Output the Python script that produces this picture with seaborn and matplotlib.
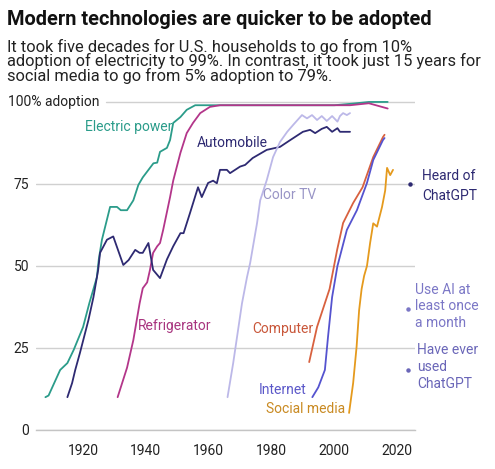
import pandas as pd
import numpy as np
import matplotlib.pyplot as plt
import seaborn as sns


## Data
electric_years = [1908, 1909, 1912.7, 1915, 1917, 1920, 1922, 1924.4, 1925, 1926, 1928.6, 1930.8, 1932, 1934,
                  1936, 1937.6, 1939, 1942.4, 1943.6, 1944.5, 1946.7, 1947.7, 1948.7, 1951, 1953, 1955.7,
                  2000, 2006, 2011, 2017]
electric_vals = [10, 10.5, 18.3, 20.4, 24.4, 31.4, 38.7, 46.6, 52, 58, 68, 68, 67, 67,
                 70, 74.7, 77, 81.3, 81.5, 84.8, 86, 88.4, 93.6, 95.4, 97.6, 99,
                 99, 99.5, 100, 100]

fridge_years = [1931, 1934, 1936, 1938, 1939, 1940.4, 1941.3, 1942.3, 1943.6, 1944.5, 1945.5, 1947.7, 1948.7,
                1951, 1953, 1955, 1957.3, 1960.4, 1963.6, 2005, 2011, 2017]
fridge_vals = [10, 19, 27.4, 38.6, 43.2, 45, 48.8, 54, 56, 57, 61, 71, 76,
               84.5, 90.5, 93.6, 96.6, 98.5, 99, 99, 99.6, 98]

auto_years = [1915, 1916.5, 1917.5, 1919, 1921.7, 1923.3, 1924.8, 1925.4, 1927.6, 1929.6, 1932.8, 1934.5,
              1936.6, 1938, 1939, 1940.8, 1942.3, 1944.5, 1946.7, 1948.7, 1951, 1952, 1954, 1956.6, 1957.8,
              1959.8, 1961.4, 1962.6, 1963.6, 1965.8, 1966.8, 1970, 1971.6, 1974, 1978.5, 1982.7, 1986, 1990,
              1992.3, 1993.9, 1996, 1997.6, 1999.3, 2001, 2001.8, 2005]
auto_vals = [10, 14.3, 18.3, 23.5, 33.5, 40.5, 48.8, 54, 58, 59, 50.3, 51.8,
             54.9, 54, 54, 57, 48.8, 46.3, 52, 56, 60, 60, 66, 74, 71,
             75.3, 76, 75.2, 79.3, 79.3, 78.3, 80.3, 80.8, 82.9, 85.4, 86.3, 88.4, 90.9,
             91.5, 90.5, 91.8, 92.4, 90.9, 92, 90.9, 90.9]

tv_years = [1966, 1967.8, 1970.6, 1972.2, 1973.2, 1975.4, 1976.4, 1978.5, 1980.5, 1982.7, 1985, 1986.9,
            1989.7, 1991.3, 1992.9, 1994.5, 1996, 1997.6, 1999.3, 2001, 2001.8, 2002.8, 2004, 2005]
tv_vals = [10, 20.4, 38.6, 46.6, 50.9, 63.1, 70, 76.2, 83.2, 87.8, 90.9, 93,
           96, 95, 96, 94.5, 95.7, 94.2, 95.7, 94, 95.7, 96.6, 96, 96.6]

computer_years = [1992, 1994.5, 1998.5, 2000.9, 2002.8, 2006, 2009, 2012.4, 2015.5, 2016]
computer_vals = [20.7, 31.4, 43, 54.9, 63.1, 69.2, 74, 83.2, 89.3, 90]

internet_years = [1993, 1994.9, 1997, 1998, 1999.3, 2001, 2004, 2007.2, 2010.4, 2012.4, 2015.5, 2016]
internet_vals = [10, 13, 18.3, 28.4, 40.5, 50, 61, 67, 75.3, 82.3, 88.4, 89]

social_years = [2004.7, 2006, 2007.1, 2007.9, 2008.7, 2009.5, 2010.4, 2011.4, 2012.4, 2013.6, 2015.2,
                2016.2, 2016.8, 2017.8, 2018.7]
social_vals = [5.2, 14.3, 25.4, 36.5, 43, 47, 50, 57, 63, 62, 68, 73, 79.9, 77.7, 79.3]

series = {
    "Electric power": (electric_years, electric_vals),
    "Refrigerator": (fridge_years, fridge_vals),
    "Automobile": (auto_years, auto_vals),
    "Color TV": (tv_years, tv_vals),
    "Computer": (computer_years, computer_vals),
    "Internet": (internet_years, internet_vals),
    "Social media": (social_years, social_vals),
}

line_colors = {
    "Electric power": "#2b9c8a",
    "Refrigerator": "#b3368a",
    "Automobile": "#2e2a72",
    "Color TV": "#bcb8e8",
    "Computer": "#d8613f",
    "Internet": "#5553cf",
    "Social media": "#e59a1d",
}

# label: (x, y, ha, text colour)
labels = {
    "Electric power": (1948.3, 92.5, "right", "#2b9c8a"),
    "Automobile": (1956.3, 87.5, "left", "#2e2a72"),
    "Color TV": (1977.3, 71.6, "left", "#9995c6"),
    "Refrigerator": (1937.4, 31.7, "left", "#a8357f"),
    "Computer": (1993.2, 30.8, "right", "#c9573a"),
    "Internet": (1991.0, 12.2, "right", "#5b58c9"),
    "Social media": (2003.4, 6.4, "right", "#c98a22"),
}

# ChatGPT survey points on the right
survey_labels = ["Heard of\nChatGPT", "Use AI at\nleast once\na month", "Have ever\nused\nChatGPT"]
survey_vals = [75, 37, 18.3]
survey_colors = ["#2e2a72", "#7b77c6", "#6a66b8"]
survey_dot_x = [2024.1, 2023.5, 2023.5]
survey_text_x = [2027.9, 2025.7, 2026.3]
survey_text_dy = [-0.6, 0.7, 0.9]
survey_spacing = [1.5, 1.25, 1.25]

rows = []
for name, (xs, ys) in series.items():
    for x, y in zip(xs, ys):
        rows.append({"tech": name, "year": x, "share": y})
df = pd.DataFrame(rows)


## Plot
sns.set_theme(style="white")
plt.rcParams["font.family"] = ["Roboto", "DejaVu Sans"]

fig = plt.figure(figsize=(4.95, 4.69), dpi=100)
ax = fig.add_axes([0.0727, 0.0832, 0.7657, 0.7134])

sns.lineplot(data=df, x="year", y="share", hue="tech", palette=line_colors,
             estimator=None, sort=False, legend=False, linewidth=1.3, ax=ax)
for ln in ax.lines:
    ln.set_clip_on(False)

ax.set_xlim(1905, 2025.7)
ax.set_ylim(0, 102)

# grid + axes
ax.set_yticks([0, 25, 50, 75])
ax.set_yticklabels(["0", "25", "50", "75"])
ax.yaxis.grid(True, color="#d0d0d0", linewidth=1)
ax.axhline(100, xmin=0.185, xmax=1, color="#d0d0d0", linewidth=1, zorder=0)
ax.text(-0.074, 100, "100% adoption", transform=ax.get_yaxis_transform(),
        ha="left", va="center", fontsize=10, color="#222222")
ax.set_xticks([1920, 1940, 1960, 1980, 2000, 2020])
ax.tick_params(axis="y", length=0, pad=5, labelsize=10, labelcolor="#222222")
ax.tick_params(axis="x", length=4, width=1, color="#999999", pad=6, labelsize=10, labelcolor="#222222")
for side in ["top", "right", "left"]:
    ax.spines[side].set_visible(False)
ax.spines["bottom"].set_color("#c4c4c4")
ax.spines["bottom"].set_linewidth(1)
ax.set_xlabel("")
ax.set_ylabel("")

# direct labels
for name, (x, y, ha, col) in labels.items():
    ax.text(x, y, name, ha=ha, va="center", fontsize=10, color=col)

# survey dots + labels
for lab, v, col, dx, tx, dy, ls in zip(survey_labels, survey_vals, survey_colors,
                                       survey_dot_x, survey_text_x, survey_text_dy, survey_spacing):
    ax.plot([dx], [v], marker="o", markersize=2.2, color=col, clip_on=False)
    ax.text(tx, v + dy, lab, ha="left", va="center", fontsize=10, color=col, linespacing=ls)

# title + subtitle
fig.text(0.014, 1 - 25 / 469, "Modern technologies are quicker to be adopted",
         fontsize=14.4, fontweight="bold", color="#111111", va="baseline")
subtitle = ("It took five decades for U.S. households to go from 10%\n"
            "adoption of electricity to 99%. In contrast, it took just 15 years for\n"
            "social media to go from 5% adoption to 79%.")
fig.text(0.014, 1 - 81 / 469, subtitle, fontsize=11.8, color="#222222",
         va="baseline", linespacing=0.9)

plt.savefig("out.png", dpi=100)
